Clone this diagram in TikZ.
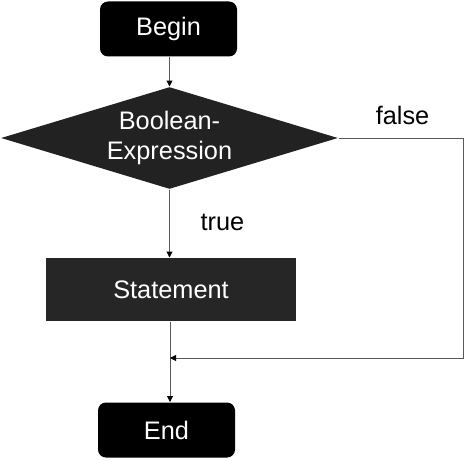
\documentclass[tikz,border=0pt]{standalone}
\usepackage{fontspec}
\setmainfont{Liberation Sans}
\usetikzlibrary{shapes.geometric,arrows.meta}

\tikzset{every picture/.style={line width=0.75pt}}
\tikzset{
  termbox/.style={rectangle,rounded corners=6pt,fill=black,text=white,minimum width=102.75pt,minimum height=41.25pt,inner sep=0.75pt,font=\fontsize{19}{22}\selectfont},
  decbox/.style={diamond,aspect=3.3,fill={rgb,255:red,34;green,34;blue,34},text=white,minimum width=252.75pt,minimum height=76.5pt,inner sep=0pt,align=center,font=\fontsize{19}{22.5}\selectfont},
  stmbox/.style={rectangle,fill={rgb,255:red,38;green,38;blue,38},text=white,minimum width=187.5pt,minimum height=47.25pt,inner sep=0.75pt,font=\fontsize{19}{22}\selectfont},
  flow/.style={draw={rgb,255:red,89;green,89;blue,89},line width=0.75pt,-{Triangle[width=4.5pt,length=4.5pt,color=black]}},
  lbl/.style={inner sep=0.75pt,font=\fontsize{19}{22}\selectfont}
}

\begin{document}
\begin{tikzpicture}[x=0.75pt,y=0.75pt,yscale=-1,xscale=1]
	\path[use as bounding box] (0,0) rectangle (474,460);
	
	% Terminals
	\node [termbox] (begin) at (168.5,29) {Begin};
	\node [termbox] (end) at (166.5,430) {End};
	% Decision
	\node [decbox] (cond) at (169.5,138) {Boolean-\\Expression};
	% Statement
	\node [stmbox] (stmt) at (171,289.5) {Statement};
	% Loop-back corners
	\coordinate (rt) at (463,138);
	\coordinate (rb) at (463,358);
	\coordinate (join) at (170,358);
	
	% Connectors
	\draw [flow] (begin.south -| cond.north) -- (cond.north);
	\draw [flow] (cond.south) -- (stmt.north -| cond.south);
	\draw [flow] (stmt.south -| join) -- (end.north -| join);
	\draw [flow] (cond.east) -- (rt) -- (rb) -- (join);
	
	% Text Node
	\node [lbl] (lfalse) at (402.5,115) {false};
	% Text Node
	\node [lbl] (ltrue) at (222.5,222) {true};
	
\end{tikzpicture}
\end{document}
